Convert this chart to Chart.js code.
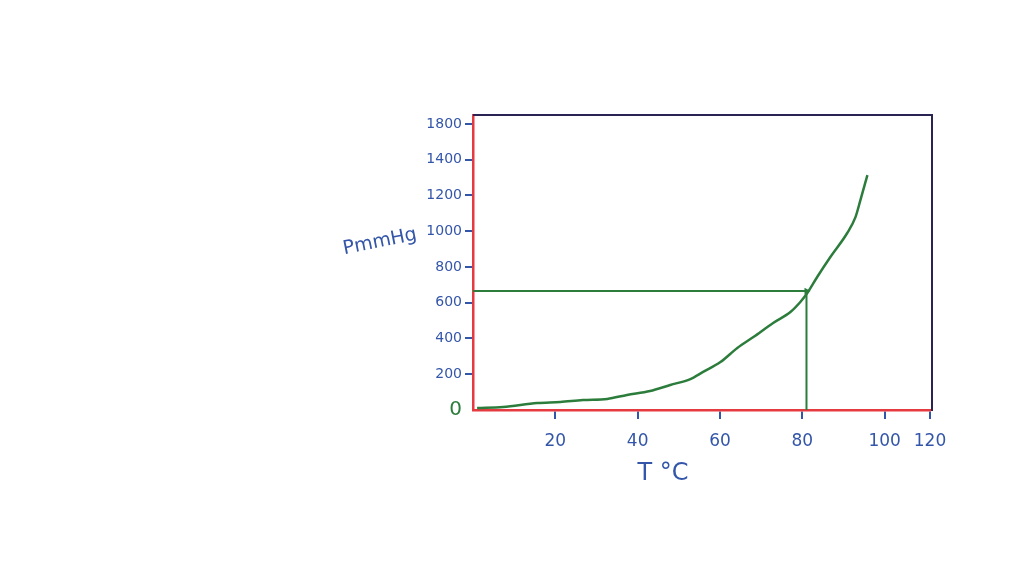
<!DOCTYPE html>
<html>
<head>
<meta charset="utf-8">
<script src="https://cdn.jsdelivr.net/npm/chart.js@4/dist/chart.umd.min.js"></script>
<style>
  html, body { margin: 0; padding: 0; background: #fff; }
  #wrap { width: 1024px; height: 576px; }
</style>
</head>
<body>
<div id="wrap"><canvas id="chart" width="1024" height="576"></canvas></div>
<script>
// curve: temperature (°C) vs vapour pressure (mmHg)
const tempC = [1, 7.3, 15.6, 21.2, 26.7, 32.6, 37.4, 43, 47.9, 52.8, 55.9, 60.1, 64.2, 68.1, 72.9, 77.1, 79.5, 81.2, 83.6, 86.8, 90.9, 92.9, 94.1, 95.8];
const pressure = [11, 17, 39, 45, 56, 62, 84, 106, 140, 173, 213, 268, 347, 408, 487, 548, 604, 654, 744, 856, 990, 1079, 1174, 1314];

// reading guide at 80 °C
const guideT = 81;
const guideP = 665;

// axes as drawn (hand-sketched spacing)
const xMax = 111;
const xTickValues = [0, 20, 40, 60, 80, 100, xMax];
const xTickLabels = ["", "20", "40", "60", "80", "100", "120"];
const yMax = 1650;
const yTickValues = [0, 200, 400, 600, 800, 1000, 1200, 1400, 1600];
const yTickLabels = ["0", "200", "400", "600", "800", "1000", "1200", "1400", "1800"];

const xTitle = "T °C";
const yTitle = "PmmHg";

const BLUE = "#3456a9";
const GREEN = "#2c7d3c";
const RED = "#e53a40";
const NAVY = "#2a2452";
const FONT = "'DejaVu Sans', sans-serif";

const frameAndTitles = {
  id: "frameAndTitles",
  beforeDatasetsDraw(chart) {
    const { ctx, chartArea: a } = chart;
    ctx.save();
    ctx.strokeStyle = NAVY;
    ctx.lineWidth = 2;
    ctx.beginPath();
    ctx.moveTo(a.left, a.top);
    ctx.lineTo(a.right + 2, a.top);
    ctx.lineTo(a.right + 2, a.bottom + 1);
    ctx.stroke();
    ctx.restore();
  },
  afterDraw(chart) {
    const { ctx, chartArea: a } = chart;
    ctx.save();
    ctx.fillStyle = BLUE;
    ctx.textAlign = "center";
    ctx.textBaseline = "middle";
    ctx.font = "24px " + FONT;
    ctx.fillText(xTitle, a.left + 190, a.bottom + 64);
    ctx.font = "19px " + FONT;
    ctx.translate(a.left - 93, a.top + 127);
    ctx.rotate(-0.2);
    ctx.fillText(yTitle, 0, 0);
    ctx.restore();
  }
};

new Chart(document.getElementById("chart"), {
  type: "line",
  data: {
    datasets: [
      {
        data: tempC.map((t, i) => ({ x: t, y: pressure[i] })),
        borderColor: GREEN,
        borderWidth: 2.5,
        pointRadius: 0,
        cubicInterpolationMode: "monotone"
      },
      {
        data: [{ x: 0, y: guideP }, { x: guideT, y: guideP }],
        borderColor: GREEN,
        borderWidth: 2,
        pointRadius: [0, 4],
        pointStyle: "triangle",
        rotation: 90,
        pointBackgroundColor: GREEN,
        pointBorderWidth: 0
      },
      {
        data: [{ x: guideT, y: guideP }, { x: guideT, y: 0 }],
        borderColor: GREEN,
        borderWidth: 2,
        pointRadius: 0
      }
    ]
  },
  options: {
    responsive: false,
    animation: false,
    layout: { padding: { left: 0, top: 115, right: 94, bottom: 0 } },
    plugins: { legend: { display: false }, tooltip: { enabled: false } },
    scales: {
      x: {
        type: "linear",
        min: 0,
        max: xMax,
        afterBuildTicks: s => { s.ticks = xTickValues.map(v => ({ value: v })); },
        afterFit: s => { s.height = 166; },
        border: { color: RED, width: 2.5 },
        grid: {
          drawOnChartArea: false,
          tickLength: 9,
          lineWidth: 2,
          color: c => c.index === 0 ? "rgba(0,0,0,0)" : BLUE
        },
        ticks: {
          autoSkip: false,
          maxRotation: 0,
          padding: 12,
          color: BLUE,
          font: { family: FONT, size: 17 },
          callback: (v, i) => xTickLabels[i]
        }
      },
      y: {
        type: "linear",
        min: 0,
        max: yMax,
        afterBuildTicks: s => { s.ticks = yTickValues.map(v => ({ value: v })); },
        afterFit: s => { s.width = 473; },
        border: { color: RED, width: 2.5 },
        grid: {
          drawOnChartArea: false,
          tickLength: 8,
          lineWidth: 2,
          color: c => c.index === 0 ? "rgba(0,0,0,0)" : BLUE
        },
        ticks: {
          autoSkip: false,
          padding: 3,
          color: c => c.index === 0 ? GREEN : BLUE,
          font: c => ({ family: FONT, size: c.index === 0 ? 20 : 14 }),
          callback: (v, i) => yTickLabels[i]
        }
      }
    }
  },
  plugins: [frameAndTitles]
});
</script>
</body>
</html>
